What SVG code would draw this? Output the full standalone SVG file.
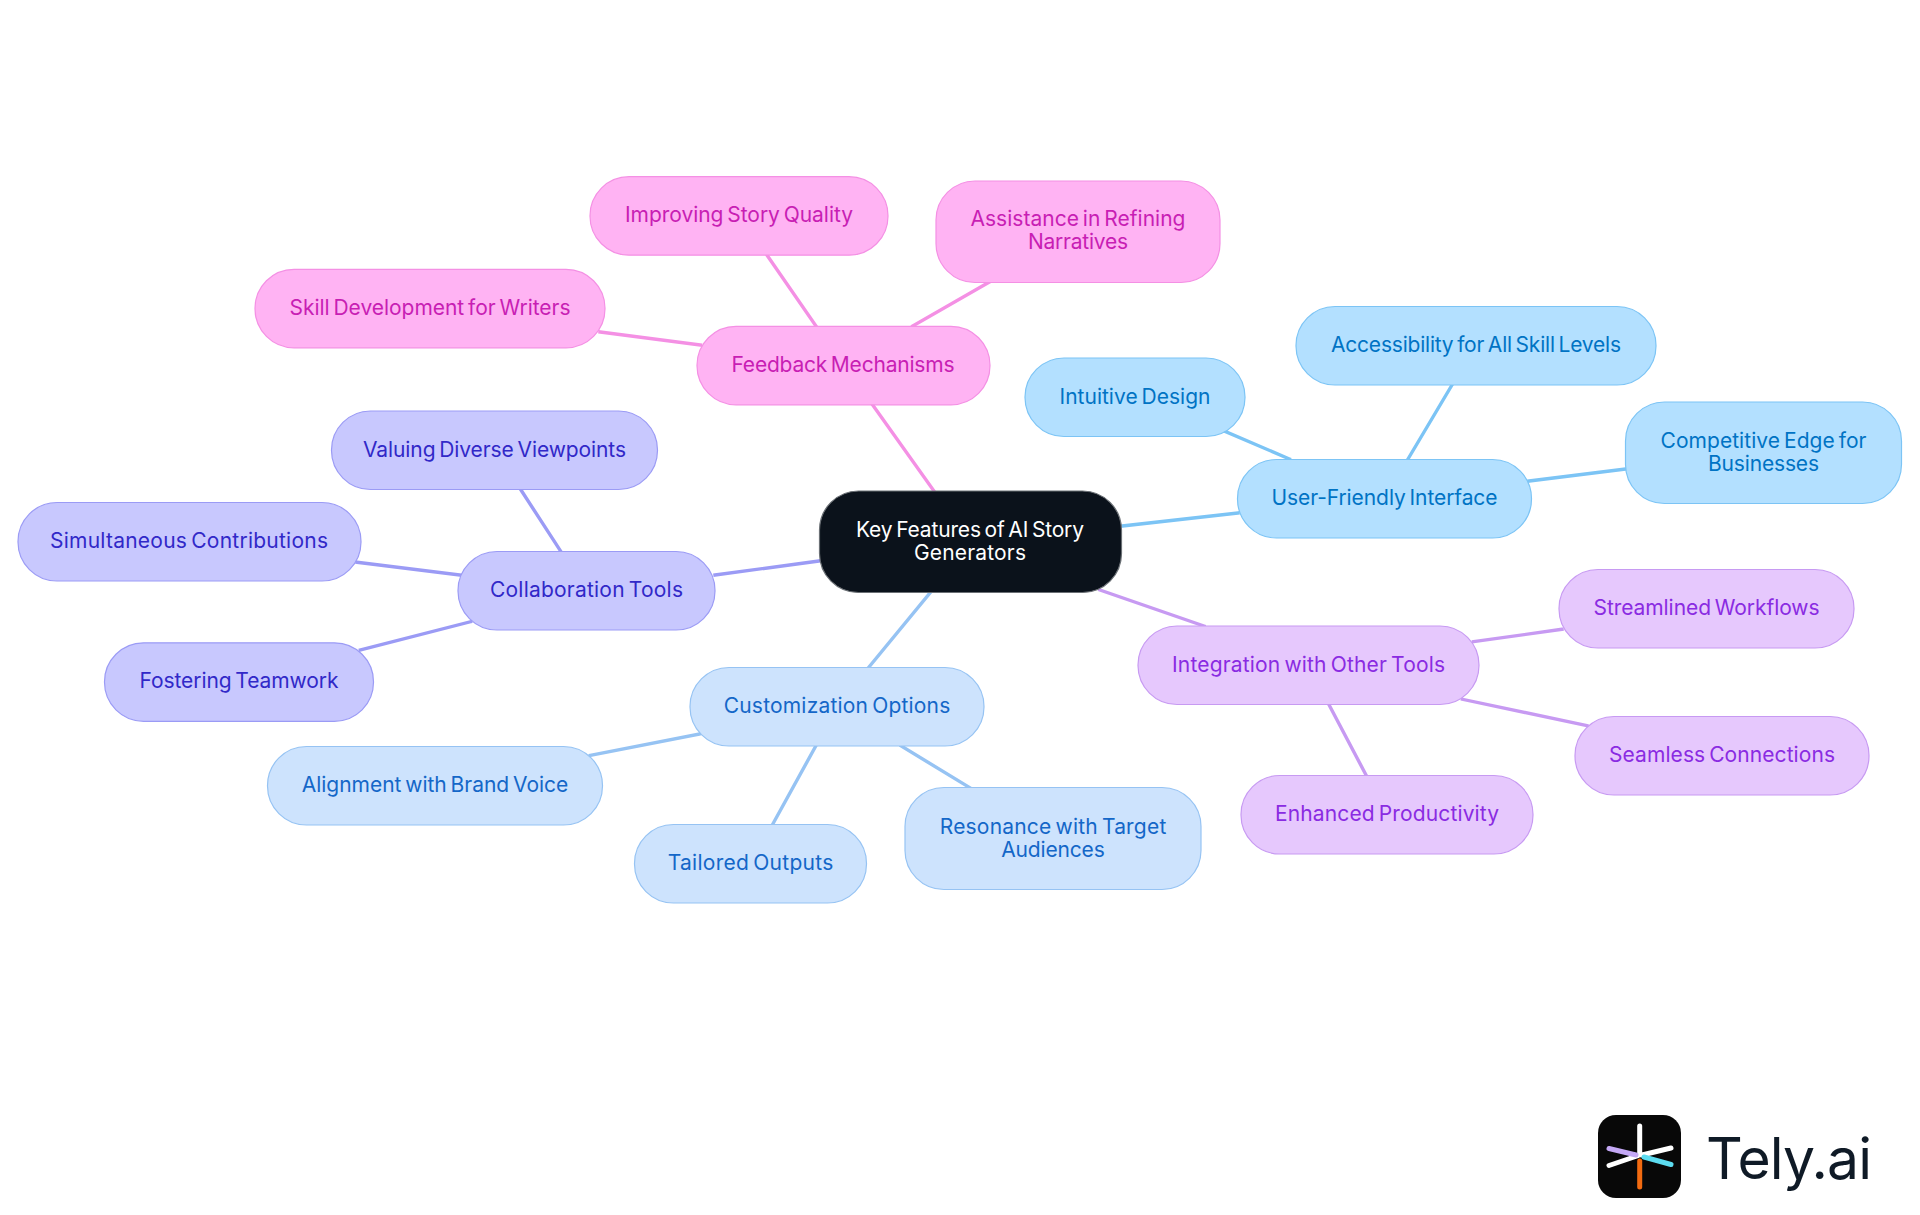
<svg xmlns="http://www.w3.org/2000/svg" width="1920" height="1215" viewBox="0 0 1920 1215">
<style>
text{font-family:Inter,"Noto Sans",sans-serif;font-size:21px;text-anchor:middle;word-spacing:-2px}
rect{stroke-width:1.2}
.edge{fill:none;stroke-width:3.4;stroke-linecap:square}
.root rect{fill:#0b121b;stroke:#6b7075}.root text{fill:#fff}
.sky rect{fill:#b3e0ff;stroke:#7cc4f5}.sky text{fill:#0073c4}.esky{stroke:#7cc4f5}
.pur rect{fill:#e6c8fd;stroke:#c79af2}.pur text{fill:#8a2be2}.epur{stroke:#c79af2}
.blu rect{fill:#cde3fd;stroke:#96c3f3}.blu text{fill:#1467c8}.eblu{stroke:#96c3f3}
.ind rect{fill:#c8c8fe;stroke:#9b9bf5}.ind text{fill:#3128c8}.eind{stroke:#9b9bf5}
.pnk rect{fill:#ffb3f3;stroke:#f490e4}.pnk text{fill:#c81eb4}.epnk{stroke:#f490e4}
.brand{font-size:57px;font-weight:400;fill:#0f1a26;text-anchor:start;word-spacing:0}
</style>
<rect width="1920" height="1215" fill="#fff" style="stroke:none"/>
<g id="connectors">
<path class="edge esky" d="M1122 526L1238 513M1222 430L1289.400 459M1452 385L1408 459M1529 481L1626 469"/>
<path class="edge epur" d="M1100 590L1204 626M1473.500 641.700L1562 629.300M1462.500 699.300L1587 725.700M1329 704.700L1366.400 775.700"/>
<path class="edge eblu" d="M930 593L869 667M699.400 734L590.300 755.300M815.800 746L772.700 824.300M901.200 746L970.300 788"/>
<path class="edge eind" d="M819 561L715 575M561 551.700L521 490M460 575L357 562.300M470.600 621.700L360.400 650"/>
<path class="edge epnk" d="M934 491L872 404M816 326L767.400 255.700M912.800 326L989.400 282M700.500 345L600 332"/>
</g>
<g id="root" class="root"><rect x="819.500" y="491" width="302" height="101.500" rx="39"/><text x="970" y="537" textLength="228">Key Features of AI Story</text><text x="970" y="560" textLength="112">Generators</text></g>
<g id="n1" class="sky"><rect x="1237.500" y="459.500" width="294" height="78.500" rx="39"/><text x="1384.500" y="505" textLength="226">User-Friendly Interface</text></g>
<g id="n2" class="sky"><rect x="1025" y="358" width="220" height="78.500" rx="39"/><text x="1135" y="404" textLength="151">Intuitive Design</text></g>
<g id="n3" class="sky"><rect x="1296" y="306.500" width="360" height="78.500" rx="39"/><text x="1476" y="352" textLength="290">Accessibility for All Skill Levels</text></g>
<g id="n4" class="sky"><rect x="1625.500" y="402" width="276" height="101.500" rx="39"/><text x="1763.500" y="448" textLength="206">Competitive Edge for</text><text x="1763.500" y="471" textLength="111">Businesses</text></g>
<g id="n5" class="pur"><rect x="1138" y="626" width="341" height="78.500" rx="39"/><text x="1308.500" y="672" textLength="273">Integration with Other Tools</text></g>
<g id="n6" class="pur"><rect x="1559" y="569.500" width="295" height="78.500" rx="39"/><text x="1706.500" y="615" textLength="226">Streamlined Workflows</text></g>
<g id="n7" class="pur"><rect x="1575" y="716.500" width="294" height="78.500" rx="39"/><text x="1722" y="762" textLength="226">Seamless Connections</text></g>
<g id="n8" class="pur"><rect x="1241" y="775.500" width="292" height="78.500" rx="39"/><text x="1387" y="821" textLength="224">Enhanced Productivity</text></g>
<g id="n9" class="blu"><rect x="690" y="667.500" width="294" height="78.500" rx="39"/><text x="837" y="713" textLength="226.500">Customization Options</text></g>
<g id="n10" class="blu"><rect x="267.500" y="746.500" width="335" height="78.500" rx="39"/><text x="435" y="792" textLength="266.500">Alignment with Brand Voice</text></g>
<g id="n11" class="blu"><rect x="634.500" y="824.500" width="232" height="78.500" rx="39"/><text x="750.500" y="870" textLength="165.500">Tailored Outputs</text></g>
<g id="n12" class="blu"><rect x="905" y="787.500" width="296" height="102" rx="39"/><text x="1053" y="834" textLength="226.500">Resonance with Target</text><text x="1053" y="857" textLength="103.500">Audiences</text></g>
<g id="n13" class="ind"><rect x="458" y="551.500" width="257" height="78.500" rx="39"/><text x="586.500" y="597" textLength="193">Collaboration Tools</text></g>
<g id="n14" class="ind"><rect x="331.500" y="411" width="326" height="78.500" rx="39"/><text x="494.500" y="457" textLength="263">Valuing Diverse Viewpoints</text></g>
<g id="n15" class="ind"><rect x="18" y="502.500" width="343" height="78.500" rx="39"/><text x="189" y="548" textLength="278">Simultaneous Contributions</text></g>
<g id="n16" class="ind"><rect x="104.500" y="642.800" width="269" height="78.500" rx="39"/><text x="239" y="688" textLength="199">Fostering Teamwork</text></g>
<g id="n17" class="pnk"><rect x="697" y="326.300" width="293" height="78.500" rx="39"/><text x="843" y="372" textLength="223">Feedback Mechanisms</text></g>
<g id="n18" class="pnk"><rect x="590" y="176.700" width="298" height="78.500" rx="39"/><text x="739" y="222" textLength="228">Improving Story Quality</text></g>
<g id="n19" class="pnk"><rect x="936" y="181" width="284" height="101.500" rx="39"/><text x="1078" y="226" textLength="215">Assistance in Refining</text><text x="1078" y="249" textLength="100">Narratives</text></g>
<g id="n20" class="pnk"><rect x="255" y="269.300" width="350" height="78.500" rx="39"/><text x="430" y="315" textLength="281">Skill Development for Writers</text></g>
<g id="logo">
<rect x="1598" y="1115" width="83" height="83" rx="18" fill="#080808" style="stroke:none"/>
<g fill="none" stroke-width="5" stroke-linecap="round">
<path d="M1639.700 1126V1155M1637 1156L1609 1165.500M1642 1155L1671 1148" stroke="#fff"/>
<path d="M1636 1155L1609 1148.500" stroke="#c4a8f5"/>
<path d="M1644 1157L1671 1164.500" stroke="#5cdcf0"/>
<path d="M1639.700 1161V1187" stroke="#f26a10"/>
</g>
<text class="brand" x="1706" y="1179" textLength="166">Tely.ai</text>
</g>
</svg>
